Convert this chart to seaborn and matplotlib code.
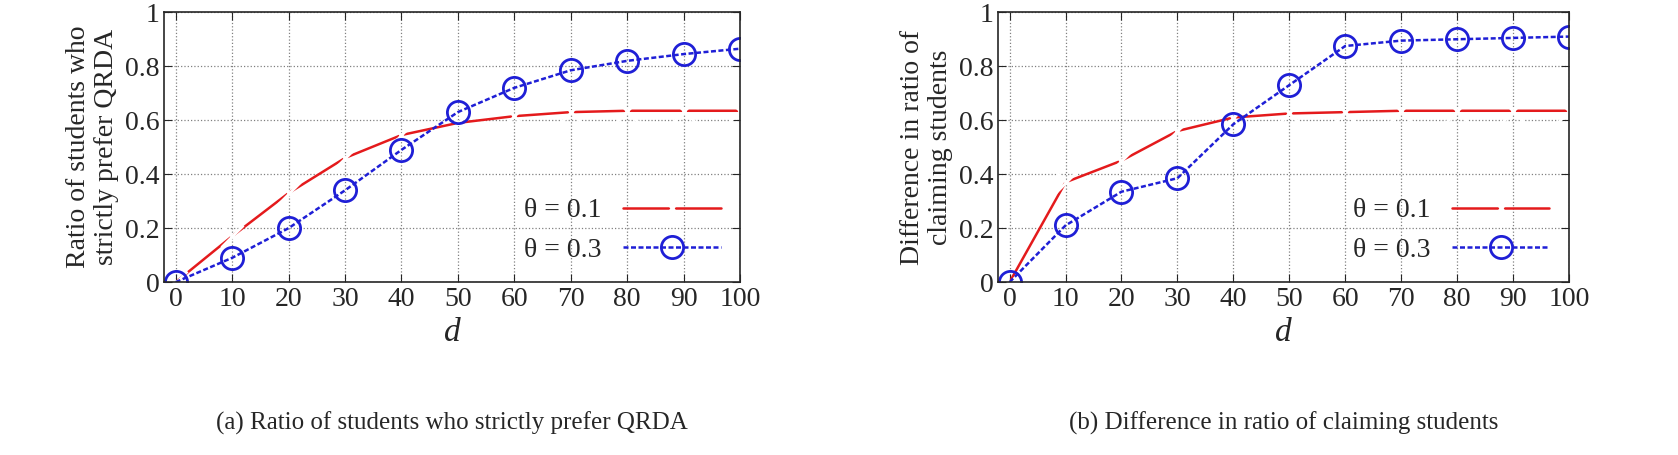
import numpy as np
import pandas as pd
import matplotlib
matplotlib.use("Agg")
import matplotlib.pyplot as plt
import seaborn as sns

d = [0, 10, 20, 30, 40, 50, 60, 70, 80, 90, 100]
left_t01 = [0, 0.17, 0.33, 0.46, 0.545, 0.59, 0.615, 0.63, 0.635, 0.635, 0.635]
left_t03 = [0, 0.09, 0.20, 0.34, 0.49, 0.63, 0.72, 0.785, 0.82, 0.845, 0.865]
right_t01 = [0, 0.37, 0.45, 0.56, 0.61, 0.625, 0.63, 0.635, 0.635, 0.635, 0.635]
right_t03 = [0, 0.21, 0.335, 0.385, 0.585, 0.73, 0.875, 0.895, 0.90, 0.905, 0.91]
labels = ["θ = 0.1", "θ = 0.3"]

sns.set_style("ticks")
plt.rcParams['font.family'] = ['Liberation Serif', 'DejaVu Serif']
plt.rcParams['font.size'] = 20

fig = plt.figure(figsize=(16.78, 4.55), dpi=100)
ax1 = fig.add_axes([0.098, 0.380, 0.343, 0.593])
ax2 = fig.add_axes([0.595, 0.380, 0.340, 0.593])


def draw(ax, s1, s2, ylabel, caption):
    sns.lineplot(x=d, y=s1, color='#e41a1c', marker='x', markersize=16,
                 markeredgewidth=2, linewidth=1.8, label=labels[0], ax=ax)
    sns.lineplot(x=d, y=s2, color='#1f1fd6', marker='o', markersize=16,
                 markeredgewidth=2, markerfacecolor='none',
                 markeredgecolor='#1f1fd6', linewidth=1.8,
                 linestyle=(0, (2, 1)), label=labels[1], ax=ax)
    ax.set_xlim(-2, 100)
    ax.set_ylim(0, 1)
    ax.set_xticks(d)
    ax.set_yticks([0, 0.2, 0.4, 0.6, 0.8, 1])
    ax.set_yticklabels(['0', '0.2', '0.4', '0.6', '0.8', '1'])
    ax.grid(True, linestyle=':', color='gray', linewidth=0.9)
    ax.tick_params(direction='in', top=True, right=True, length=6)
    ax.set_xlabel('d', style='italic', fontsize=24)
    ax.set_ylabel(ylabel, fontsize=20)
    for sp in ax.spines.values():
        sp.set_linewidth(1.2)
    leg = ax.legend(loc='lower right', markerfirst=False, frameon=False,
                    handlelength=3.5, fontsize=20, borderaxespad=0.3)
    for h in leg.legend_handles:
        h.set_markerfacecolor('none')
    ax.text(0.5, -0.48, caption, transform=ax.transAxes, ha='center',
            va='top', fontsize=18)


draw(ax1, left_t01, left_t03, 'Ratio of students who\nstrictly prefer QRDA',
     '(a) Ratio of students who strictly prefer QRDA')
draw(ax2, right_t01, right_t03, 'Difference in ratio of\nclaiming students',
     '(b) Difference in ratio of claiming students')

fig.savefig('out.png', dpi=100)
plt.close()
